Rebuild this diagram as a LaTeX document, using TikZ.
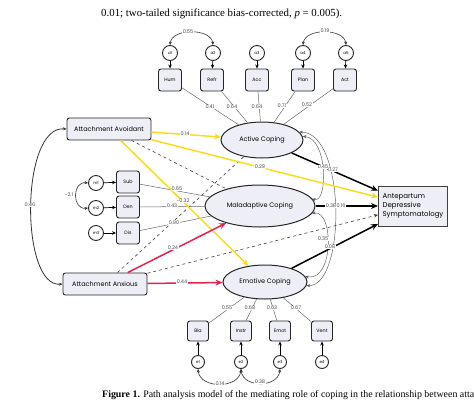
\documentclass[tikz,border=0pt]{standalone}
\usepackage{fontspec}
\setmainfont{Liberation Serif}
\newfontfamily\diag{Poppins}
\usetikzlibrary{arrows.meta,shapes.geometric}
\definecolor{fillc}{RGB}{238,238,247}
\definecolor{ylw}{RGB}{245,222,30}
\definecolor{rd}{RGB}{232,32,80}
\begin{document}
\begin{tikzpicture}[x=1pt,y=-1pt,
  bigbox/.style={draw=black!85, rounded corners=2.5pt, fill=fillc, line width=0.9pt, font=\diag\fontsize{6.5}{7}\selectfont, minimum width=84pt, minimum height=22pt, inner sep=0pt},
  sbox/.style={draw=black!85, rounded corners=2.5pt, fill=fillc, line width=0.9pt, font=\diag\fontsize{4.8}{5}\selectfont, minimum width=23pt, minimum height=22pt, inner xsep=2pt, inner ysep=0pt},
  ell/.style={ellipse, draw=black!85, fill=fillc, line width=1pt, font=\diag\fontsize{6.5}{7}\selectfont, inner sep=0pt},
  err/.style={circle, draw=black!85, fill=white, line width=0.9pt, minimum size=15pt, inner sep=0pt, font=\diag\fontsize{4}{4}\selectfont},
  lbl/.style={fill=white, inner sep=0.4pt, font=\diag\fontsize{5}{5}\selectfont, text=black!70},
  ld/.style={draw=black!60, line width=0.5pt},
  arr/.style={-{Stealth[length=4pt,width=3.5pt]}},
  darr/.style={{Stealth[length=3.5pt,width=3pt]}-{Stealth[length=3.5pt,width=3pt]}},
  cov/.style={draw=black!80, line width=0.6pt, darr},
  rcov/.style={draw=black!65, line width=0.45pt, darr},
  thick arr/.style={draw=black, line width=1.5pt, -{Stealth[length=7pt,width=6pt]}},
  yarr/.style={draw=ylw, line width=1.5pt, -{Stealth[length=7pt,width=6pt]}},
  rarr/.style={draw=rd, line width=1.5pt, -{Stealth[length=7pt,width=6pt]}},
  dsh/.style={draw=black!75, line width=0.6pt, dashed}
]
\useasboundingbox (0,0) rectangle (474,413);

% captions
\node[anchor=base west, inner sep=0pt] (toptext) at (101,16) {\resizebox{241pt}{!}{0.01; two-tailed significance bias-corrected, \textit{p} = 0.005).}};
\node[anchor=base west, inner sep=0pt] (caption) at (102,397) {\resizebox{372pt}{!}{\textbf{Figure 1.} Path analysis model of the mediating role of coping in the relationship between atta}};

% top indicators
\node[err] (a1) at (170,53) {a1};
\node[err] (a2) at (213,53) {a2};
\node[err] (a3) at (257,53) {a3};
\node[err] (a4) at (303,53) {a4};
\node[err] (a5) at (346,53) {a5};
\node[sbox] (hum) at (170,80) {Hum};
\node[sbox] (refr) at (212,80) {Refr};
\node[sbox] (acc) at (257,80) {Acc};
\node[sbox] (plan) at (303,80) {Plan};
\node[sbox] (act) at (345,80) {Act};

% latent
\node[ell, minimum width=82pt, minimum height=36pt] (ac) at (262,140) {Active Coping};
\node[ell, minimum width=110pt, minimum height=42pt] (mc) at (260,206) {Maladaptive Coping};
\node[ell, minimum width=84pt, minimum height=34pt] (ec) at (265,282) {Emotive Coping};

\node[bigbox] (avoid) at (109,129) {Attachment Avoidant};
\node[bigbox] (anx) at (105,284) {Attachment Anxious};

\node[draw=black!75, fill=fillc, line width=1pt, align=left, minimum width=69pt, minimum height=40pt, inner xsep=4pt, font=\diag\fontsize{7}{9}\selectfont] (ante) at (413,206) {Antepartum\\Depressive\\Symptomatology};

% maladaptive indicators
\node[err] (m1) at (96,183) {m1};
\node[err] (m2) at (96,208) {m2};
\node[err] (m3) at (96,233) {m3};
\node[sbox] (sub) at (128,182) {Sub};
\node[sbox] (den) at (128,207) {Den};
\node[sbox] (dis) at (128,233) {Dis};

% emotive indicators
\node[sbox, minimum height=20pt, minimum width=21pt] (bla) at (198,331) {Bla};
\node[sbox, minimum height=20pt, minimum width=21pt] (instr) at (241,331) {Instr};
\node[sbox, minimum height=20pt, minimum width=21pt] (emot) at (280,331) {Emot};
\node[sbox, minimum height=20pt, minimum width=21pt] (vent) at (322,331) {Vent};
\node[err, minimum size=13pt] (e1) at (198,362) {e1};
\node[err, minimum size=13pt] (e2) at (241,362) {e2};
\node[err, minimum size=13pt] (e3) at (280,362) {e3};
\node[err, minimum size=13pt] (e4) at (322,362) {e4};

% error arrows
\foreach \e/\b in {a1/hum,a2/refr,a3/acc,a4/plan,a5/act,m1/sub,m2/den,m3/dis,e1/bla,e2/instr,e3/emot,e4/vent}
  \draw[arr, line width=0.7pt] (\e) -- (\b);

% loadings
\foreach \b in {hum,refr,acc,plan,act} \draw[ld] (\b) -- (ac);
\foreach \b in {sub,den,dis} \draw[ld] (\b) -- (mc);
\foreach \b in {bla,instr,emot,vent} \draw[ld] (\b) -- (ec);

% covariances
\draw[cov] (a1.north) .. controls (172,28) and (211,28) .. (a2.north);
\draw[cov] (a4.north) .. controls (305,28) and (344,28) .. (a5.north);
\draw[cov] (e1.south) .. controls (200,389) and (239,389) .. (e2.south);
\draw[cov] (e2.south) .. controls (243,388) and (278,388) .. (e3.south);
\draw[cov] (m1.west) .. controls (72,181) and (72,210) .. (m2.west);
\draw[cov, line width=0.8pt] (avoid.west) .. controls (20,125) and (20,288) .. (anx.west);
\draw[rcov] (ac.5) .. controls (328,138) and (328,204) .. (mc.8);
\draw[rcov] (mc.-8) .. controls (334,210) and (334,282) .. (ec.8);
\draw[rcov] (ac.12) .. controls (346,133) and (346,286) .. (ec.-5);

% dashed nonsignificant paths
\draw[dsh] (avoid) -- (mc);
\draw[dsh] (anx) -- (ac);
\draw[dsh, -{Stealth[length=4pt,width=3.5pt]}] (anx) -- (ante);

% significant paths
\draw[yarr] (avoid) -- (ac);
\draw[yarr] (avoid) -- (ante);
\draw[yarr] (avoid) -- (ec);
\draw[rarr] (anx) -- (mc);
\draw[rarr] (anx) -- (ec);
\draw[thick arr] (ac) -- (ante);
\draw[thick arr] (mc) -- (ante);
\draw[thick arr] (ec) -- (ante);

% labels
\node[lbl] (l01) at (188,32) {0.55};
\node[lbl] (l02) at (325,31) {0.19};
\node[lbl] (l03) at (210,107) {0.41};
\node[lbl] (l04) at (232,107) {0.64};
\node[lbl] (l05) at (257,107) {0.64};
\node[lbl] (l06) at (282,106) {0.71};
\node[lbl] (l07) at (307,105) {0.52};
\node[lbl] (l08) at (185,134) {0.14};
\node[lbl] (l09) at (260,167) {0.29};
\node[lbl] (l10) at (177,189) {0.65};
\node[lbl] (l11) at (172,206) {0.43};
\node[lbl] (l12) at (174,223) {0.90};
\node[lbl] (l13) at (183,201) {-0.32};
\node[lbl] (l14) at (173,248) {0.24};
\node[lbl] (l15) at (182,282) {0.44};
\node[lbl] (l16) at (69,195) {-2.1};
\node[lbl] (l17) at (30,205) {0.46};
\node[lbl] (l18) at (323,167) {0.45};
\node[lbl] (l19) at (333,170) {0.27};
\node[lbl] (l20) at (331,206) {0.38};
\node[lbl] (l21) at (341,206) {0.16};
\node[lbl] (l22) at (323,239) {0.35};
\node[lbl] (l23) at (330,247) {0.08};
\node[lbl] (l24) at (227,308) {0.55};
\node[lbl] (l25) at (250,308) {0.68};
\node[lbl] (l26) at (272,308) {0.63};
\node[lbl] (l27) at (296,308) {0.67};
\node[lbl] (l28) at (220,384) {0.14};
\node[lbl] (l29) at (260,382) {0.38};
\end{tikzpicture}
\end{document}
